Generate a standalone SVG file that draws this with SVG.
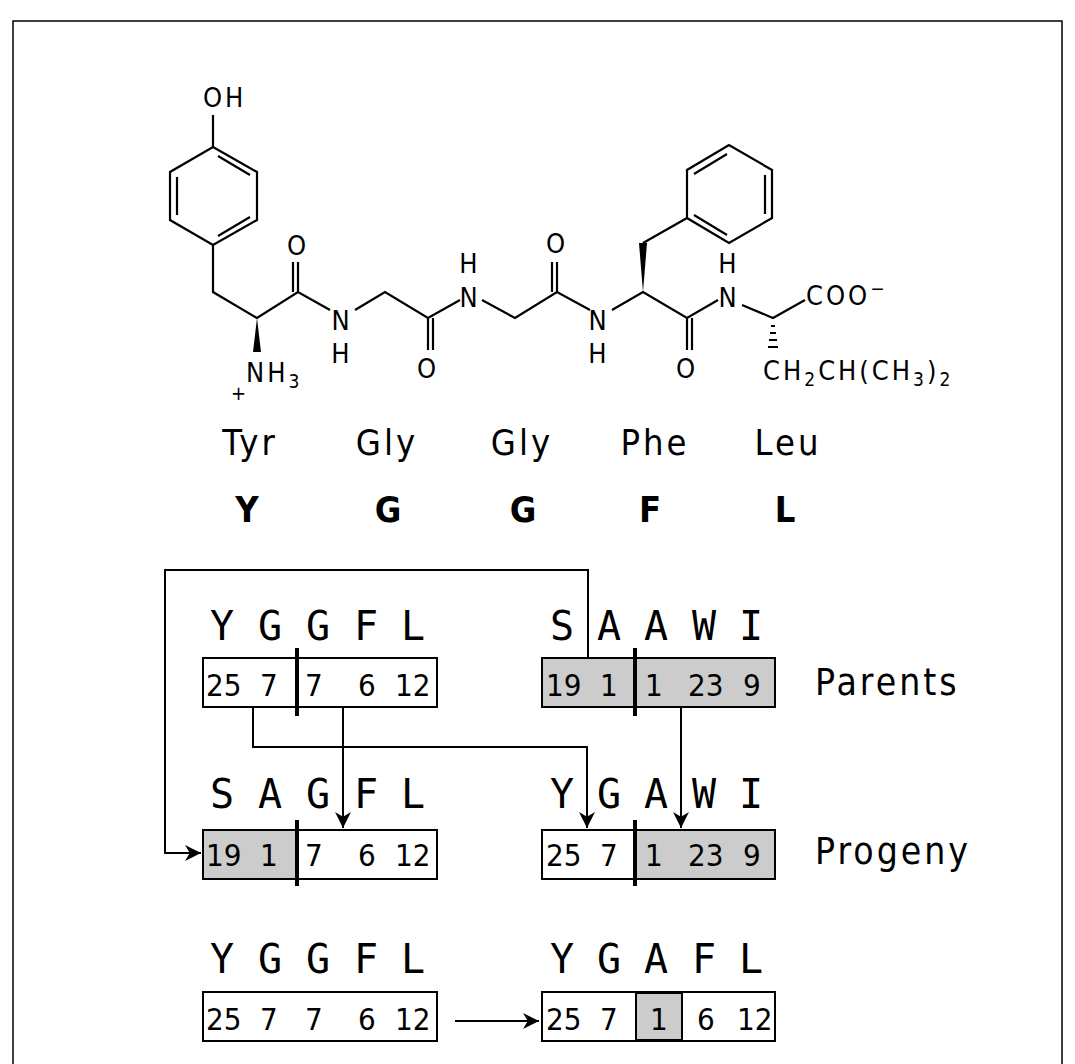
<svg xmlns="http://www.w3.org/2000/svg" width="1075" height="1064" viewBox="0 0 1075 1064">
<defs>
<marker id="ah" viewBox="0 0 10 10" refX="10" refY="5" markerWidth="16" markerHeight="16" markerUnits="userSpaceOnUse" orient="auto"><path d="M0,0 L10,5 L0,10 L3,5 Z" fill="#000"/></marker>
<style>
.b{stroke:#000;stroke-width:2.2;fill:none}
.t{font-family:"DejaVu Sans Condensed","DejaVu Sans",sans-serif;fill:#000}
.c{font-size:27px;letter-spacing:3px}
.s{font-family:"DejaVu Sans Mono",monospace;font-size:40px;text-anchor:middle}
.n{font-family:"DejaVu Sans Condensed","DejaVu Sans",sans-serif;font-size:31px}
.box{stroke:#000;stroke-width:2;fill:#fff}
.g{fill:#cccccc}
.div{stroke:#000;stroke-width:4}
.ln{stroke:#000;stroke-width:2;fill:none}
</style>
</defs>
<rect x="13" y="21" width="1049" height="1060" fill="#fff" stroke="#000" stroke-width="1.5"/>
<g id="molecule">
<path class="b" d="M213,147 L257,172 L257,220 L213,245 L170,220 L170,172 Z M218,156 L250,175 M250,217 L218,236 M177,177 L177,215 M213,147 L213,115 M213,245 L213,292 L257,318 L298,292 L330,310 M298,292 L298,262 M293,292 L293,262 M355,310 L385,292 L428,318 L460,300 M428,318 L428,350 M433,318 L433,350 M482,300 L515,318 L557,292 L590,310 M557,292 L557,262 M552,292 L552,262 M612,310 L643,292 L687,318 L718,300 M643,243 L687,218 M687,318 L687,350 M692,318 L692,350 M742,305 L773,318 L805,300"/>
<path class="b" d="M687,218 L687,170 L729,145 L772,170 L772,218 L729,243 Z M694,174 L727,154 M765,175 L765,214 M727,235 L694,215"/>
<polygon points="257,318 253,352 261,352" fill="#000"/>
<polygon points="643,292 639,243 647,243" fill="#000"/>
<path stroke="#000" stroke-width="2" d="M771,326 h4 M770,333 h6 M769,340 h8 M768,347 h10"/>
<g class="t c">
<text x="203" y="107">OH</text>
<text x="298" y="255" text-anchor="middle">O</text>
<text x="342" y="330" text-anchor="middle">N</text>
<text x="342" y="363" text-anchor="middle">H</text>
<text x="246" y="382">NH<tspan font-size="19" dy="6">3</tspan></text>
<text x="240" y="400" text-anchor="middle" font-size="20">+</text>
<text x="428" y="378" text-anchor="middle">O</text>
<text x="470" y="307" text-anchor="middle">N</text>
<text x="470" y="273" text-anchor="middle">H</text>
<text x="557" y="253" text-anchor="middle">O</text>
<text x="599" y="330" text-anchor="middle">N</text>
<text x="599" y="363" text-anchor="middle">H</text>
<text x="687" y="378" text-anchor="middle">O</text>
<text x="729" y="307" text-anchor="middle">N</text>
<text x="729" y="273" text-anchor="middle">H</text>
<text x="806" y="305">COO<tspan font-size="19" dy="-10">−</tspan></text>
<text x="763" y="380">CH<tspan font-size="19" dy="6">2</tspan><tspan dy="-6">CH(CH</tspan><tspan font-size="19" dy="6">3</tspan><tspan dy="-6">)</tspan><tspan font-size="19" dy="6">2</tspan></text>
</g>
<g class="t" font-size="36" text-anchor="middle" letter-spacing="3">
<text x="250" y="455">Tyr</text><text x="387" y="455">Gly</text><text x="522" y="455">Gly</text><text x="655" y="455">Phe</text><text x="788" y="455">Leu</text>
</g>
<g class="t" font-size="36" font-weight="bold" text-anchor="middle">
<text x="247" y="522">Y</text><text x="388" y="522">G</text><text x="523" y="522">G</text><text x="650" y="522">F</text><text x="785" y="522">L</text>
</g>
</g>
<g id="connectors">
<path class="ln" d="M588,658 V570 H165 V853 H201" marker-end="url(#ah)"/>
<path class="ln" d="M253,707 V747 H587 V828" marker-end="url(#ah)"/>
<path class="ln" d="M343,707 V828" marker-end="url(#ah)"/>
<path class="ln" d="M681,707 V828" stroke-width="2.5" marker-end="url(#ah)"/>
<path class="ln" d="M455,1021 H539" marker-end="url(#ah)"/>
</g>
<g id="parent1">
<g class="t s"><text x="222" y="640">Y</text><text x="270" y="640">G</text><text x="318" y="640">G</text><text x="366" y="640">F</text><text x="413" y="640">L</text></g>
<rect class="box" x="203" y="658" width="234" height="49"/>
<line class="div" x1="297" y1="648" x2="297" y2="716"/>
<g class="t n"><text x="206" y="696">25</text><text x="260" y="696">7</text><text x="305" y="696">7</text><text x="358" y="696">6</text><text x="395" y="696">12</text></g>
</g>
<g id="parent2">
<g class="t s"><text x="562" y="640">S</text><text x="609" y="640">A</text><text x="656" y="640">A</text><text x="704" y="640">W</text><text x="751" y="640">I</text></g>
<rect class="box g" x="542" y="658" width="233" height="49"/>
<line class="div" x1="635" y1="648" x2="635" y2="716"/>
<g class="t n"><text x="546" y="696">19</text><text x="600" y="696">1</text><text x="645" y="696">1</text><text x="688" y="696">23</text><text x="743" y="696">9</text></g>
<text class="t" x="815" y="695" font-size="37" letter-spacing="3">Parents</text>
</g>
<g id="progeny1">
<g class="t s"><text x="222" y="808">S</text><text x="270" y="808">A</text><text x="318" y="808">G</text><text x="366" y="808">F</text><text x="413" y="808">L</text></g>
<rect class="box" x="203" y="830" width="234" height="49"/>
<rect class="g" x="204" y="831" width="93" height="47"/>
<line class="div" x1="297" y1="820" x2="297" y2="886"/>
<g class="t n"><text x="206" y="866">19</text><text x="260" y="866">1</text><text x="305" y="866">7</text><text x="358" y="866">6</text><text x="395" y="866">12</text></g>
</g>
<g id="progeny2">
<g class="t s"><text x="562" y="808">Y</text><text x="609" y="808">G</text><text x="656" y="808">A</text><text x="704" y="808">W</text><text x="751" y="808">I</text></g>
<rect class="box" x="542" y="830" width="233" height="49"/>
<rect class="g" x="635" y="831" width="139" height="47"/>
<line class="div" x1="635" y1="820" x2="635" y2="886"/>
<g class="t n"><text x="546" y="866">25</text><text x="600" y="866">7</text><text x="645" y="866">1</text><text x="688" y="866">23</text><text x="743" y="866">9</text></g>
<text class="t" x="815" y="864" font-size="37" letter-spacing="3">Progeny</text>
</g>
<g id="original">
<g class="t s"><text x="222" y="973">Y</text><text x="270" y="973">G</text><text x="318" y="973">G</text><text x="366" y="973">F</text><text x="413" y="973">L</text></g>
<rect class="box" x="203" y="992" width="234" height="49"/>
<g class="t n"><text x="206" y="1030">25</text><text x="260" y="1030">7</text><text x="305" y="1030">7</text><text x="358" y="1030">6</text><text x="395" y="1030">12</text></g>
</g>
<g id="mutant">
<g class="t s"><text x="562" y="973">Y</text><text x="609" y="973">G</text><text x="656" y="973">A</text><text x="704" y="973">F</text><text x="751" y="973">L</text></g>
<rect class="box" x="542" y="992" width="233" height="49"/>
<rect class="g" x="636" y="993" width="46" height="47" stroke="#000" stroke-width="2"/>
<g class="t n"><text x="546" y="1030">25</text><text x="600" y="1030">7</text><text x="650" y="1030">1</text><text x="697" y="1030">6</text><text x="737" y="1030">12</text></g>
</g>
</svg>
